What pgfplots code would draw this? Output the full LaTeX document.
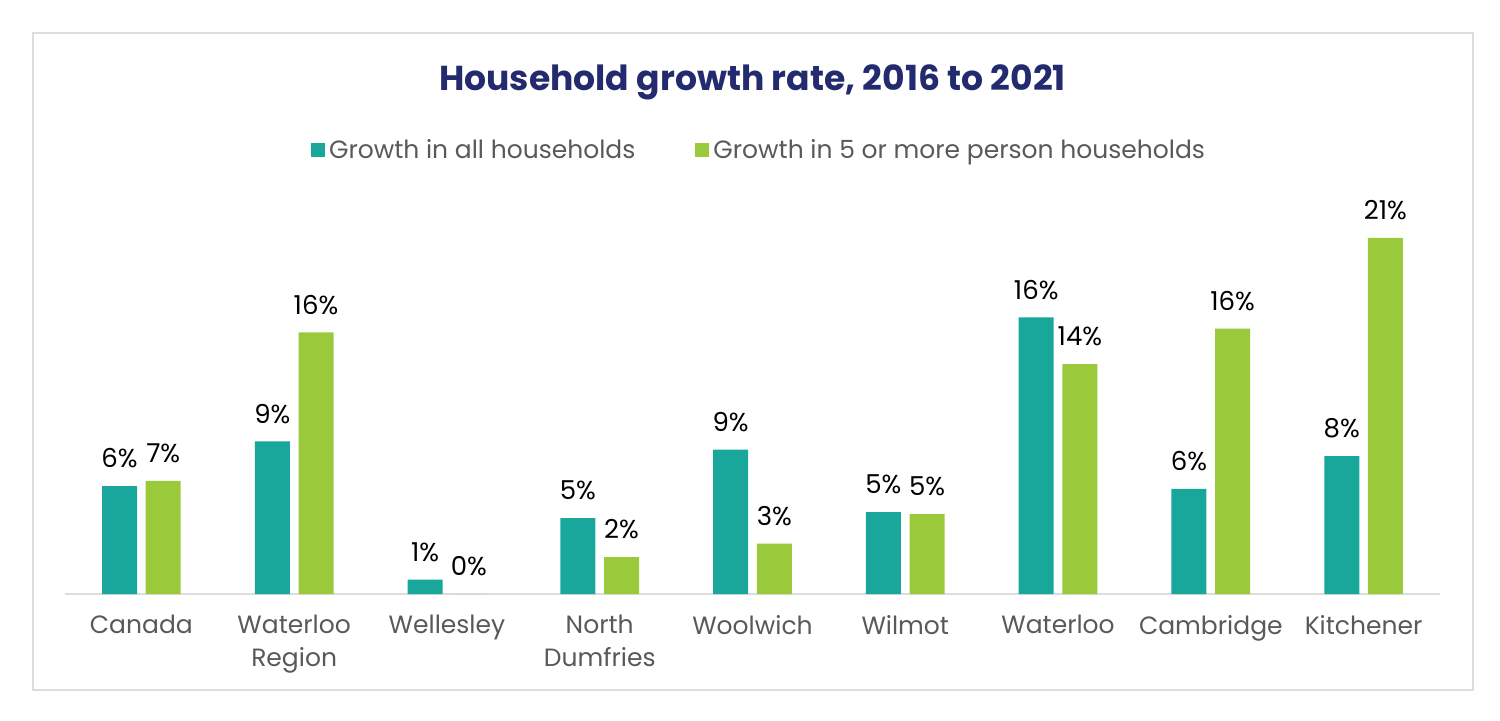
\documentclass[border=0pt]{standalone}
\usepackage{pgfplots}
\pgfplotsset{compat=1.18}
\usepackage{pgfplotstable}
\usepackage{fontspec}
\setmainfont{Poppins}

\definecolor{tealbar}{HTML}{19A79C}
\definecolor{greenbar}{HTML}{9ACA3C}
\definecolor{titlenavy}{HTML}{232B6E}
\definecolor{labelgray}{HTML}{595959}
\definecolor{framegray}{HTML}{DDDDDD}

% growth in %
\pgfplotstableread{
x   all    five
0   6.42   6.74
1   9.08   15.57
2   0.86   0.00
3   4.52   2.19
4   8.60   3.00
5   4.87   4.75
6   16.46  13.68
7   6.26   15.80
8   8.20   21.20
}\growth

\begin{document}
\begin{tikzpicture}
\useasboundingbox (0,0) rectangle (750pt,360pt);
\draw[framegray, line width=0.8pt] (16.5pt,15pt) rectangle (736.5pt,343.5pt);

\begin{axis}[
  at={(32.5pt,63pt)}, anchor=south west,
  scale only axis,
  width=687.5pt, height=210pt,
  xmin=-0.5, xmax=8.5,
  ymin=0, ymax=25,
  ybar,
  bar width=0.229,
  axis x line=bottom,
  axis y line=none,
  x axis line style={draw=framegray, line width=0.8pt, -},
  xtick=data,
  xtick style={draw=none},
  xticklabels={Canada, Waterloo\\Region, Wellesley, North\\Dumfries, Woolwich, Wilmot, Waterloo, Cambridge, Kitchener},
  xticklabel style={align=center, text=labelgray, font=\fontsize{12.5}{16.5}\selectfont, yshift=-5pt},
  /pgf/number format/assume math mode=true,
  nodes near coords={\pgfmathprintnumber[fixed,precision=0]{\pgfplotspointmeta}\%},
  every node near coord/.append style={font=\fontsize{13}{15}\selectfont, text=black, anchor=south, yshift=5.5pt},
  title={Household growth rate, 2016 to 2021},
  title style={at={(0.5,1.19)}, anchor=center, font=\bfseries\fontsize{17.3}{20}\selectfont, text=titlenavy},
  legend columns=2,
  legend style={at={(0.5055,1.057)}, anchor=center, draw=none, fill=none,
    font=\fontsize{12.5}{15}\selectfont, text=labelgray,
    /tikz/every even column/.append style={column sep=28pt}},
  legend image code/.code={\fill[#1] (0pt,-3.5pt) rectangle (7pt,3.5pt);},
]
\addplot[fill=tealbar, draw=none, bar shift=-0.143] table[x=x, y=all] {\growth};
\addlegendentry{Growth in all households}
\addplot[fill=greenbar, draw=none, bar shift=0.143] table[x=x, y=five] {\growth};
\addlegendentry{Growth in 5 or more person households}
\end{axis}
\end{tikzpicture}
\end{document}
